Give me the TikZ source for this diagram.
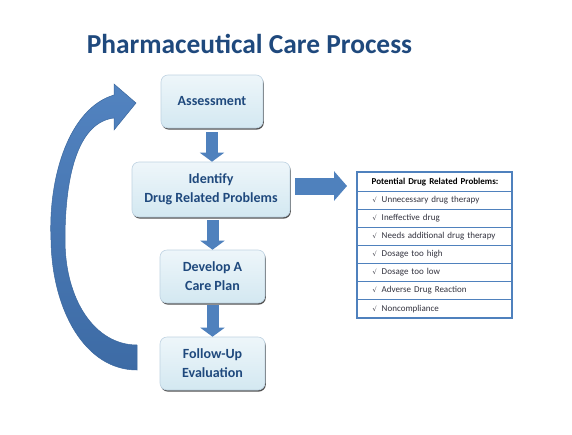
\documentclass[tikz,border=0pt]{standalone}
\usepackage{fontspec}
\setmainfont{Carlito}
\newfontfamily\symfont{DejaVu Sans}
\usetikzlibrary{arrows.meta,shadows,calc}
\definecolor{titleblue}{HTML}{1F497D}
\definecolor{arrowblue}{HTML}{4F81BD}
\definecolor{arrowdark}{HTML}{3A679E}
\definecolor{curvetop}{HTML}{5283C0}
\definecolor{curvebot}{HTML}{3D6BA5}
\definecolor{boxtop}{HTML}{EEF6FA}
\definecolor{boxbot}{HTML}{D3E8F1}
\definecolor{boxedge}{HTML}{BFD3E2}
\definecolor{tableblue}{HTML}{4F81BD}
\definecolor{tabletext}{HTML}{33333F}
\begin{document}
\begin{tikzpicture}[x=1pt,y=-1pt,
  procbox/.style={rounded corners=7pt, draw=boxedge, line width=0.6pt,
    top color=boxtop, bottom color=boxbot, text=titleblue,
    font=\bfseries\fontsize{14}{19}\selectfont, align=center, inner sep=0pt,
    drop shadow={shadow xshift=0.8pt, shadow yshift=-1.6pt, fill=black!75, opacity=0.9}},
  downarrow/.style={draw=arrowblue, line width=12pt, -{Triangle[width=24pt,length=9pt]}},
  rightarrow/.style={draw=arrowblue, line width=17pt, -{Triangle[width=29pt,length=13pt]}},
  rowbox/.style={draw=tableblue, line width=1.2pt, anchor=north west, minimum width=154pt,
    minimum height=18pt, text width=154pt, inner sep=0pt, align=left,
    text=tabletext, font=\fontsize{9}{10}\selectfont},
  headbox/.style={rowbox, minimum height=19pt, text=black, font=\bfseries\fontsize{9}{10}\selectfont}
]
\fill[white] (0,0) rectangle (572,434);
\useasboundingbox (0,0) rectangle (572,434);

% title
\node[anchor=base, text=titleblue, font=\bfseries\fontsize{27.4}{32}\selectfont] (title) at (249.5,53) {Pharmaceutical Care Process};

% curved return arrow
\shade[top color=curvetop, bottom color=curvebot, draw=arrowdark, line width=0.5pt]
  (137,370) .. controls (85,370) and (52,310) .. (51,240)
  .. controls (48,175) and (70,108) .. (114,95)
  -- (114,84) -- (136,103) -- (114,130) -- (114,118)
  .. controls (80,122) and (65,170) .. (65,240)
  .. controls (65,300) and (95,345) .. (137,345) -- cycle;

% process boxes
\node[procbox, minimum width=102pt, minimum height=53pt] (assess) at (212,101.5) {Assessment};
\node[procbox, minimum width=158pt, minimum height=55pt] (identify) at (211,189.5) {Identify\\Drug Related Problems};
\node[procbox, minimum width=105pt, minimum height=53pt] (develop) at (212.5,276.5) {Develop A\\Care Plan};
\node[procbox, minimum width=105pt, minimum height=53pt] (follow) at (212.5,363.5) {Follow-Up\\Evaluation};

% down arrows
\draw[downarrow, shorten <=4pt] (assess.south) -- (assess.south |- identify.north);
\draw[downarrow, shorten <=3pt] (develop.north |- identify.south) -- (develop.north);
\draw[downarrow, shorten <=2pt] (develop.south) -- (follow.north);

% table
\node[headbox] (r0) at (357,172) {\hspace*{14pt}Potential Drug Related Problems:};
\node[rowbox] (r1) at (357,191) {\hspace*{15pt}{\symfont\fontsize{6.5}{8}\selectfont √}\hspace{5pt}Unnecessary drug therapy};
\node[rowbox] (r2) at (357,209) {\hspace*{15pt}{\symfont\fontsize{6.5}{8}\selectfont √}\hspace{5pt}Ineffective drug};
\node[rowbox] (r3) at (357,227) {\hspace*{15pt}{\symfont\fontsize{6.5}{8}\selectfont √}\hspace{5pt}Needs additional drug therapy};
\node[rowbox] (r4) at (357,245) {\hspace*{15pt}{\symfont\fontsize{6.5}{8}\selectfont √}\hspace{5pt}Dosage too high};
\node[rowbox] (r5) at (357,263) {\hspace*{15pt}{\symfont\fontsize{6.5}{8}\selectfont √}\hspace{5pt}Dosage too low};
\node[rowbox] (r6) at (357,281) {\hspace*{15pt}{\symfont\fontsize{6.5}{8}\selectfont √}\hspace{5pt}Adverse Drug Reaction};
\node[rowbox] (r7) at (357,299) {\hspace*{15pt}{\symfont\fontsize{6.5}{8}\selectfont √}\hspace{5pt}Noncompliance};
\draw[tableblue, line width=2pt] (r0.north west) rectangle (r7.south east);

% right arrow
\draw[rightarrow] ($(identify.east)+(5,-3.5)$) -- ($(r0.west |- identify.east)+(-10,-3.5)$);
\end{tikzpicture}
\end{document}
